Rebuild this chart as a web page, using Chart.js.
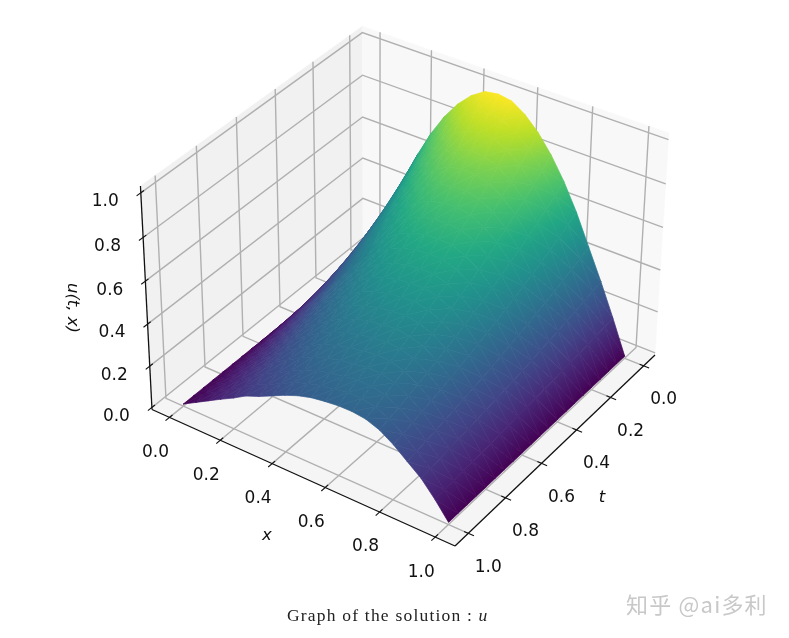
<!DOCTYPE html>
<html>
<head>
<meta charset="utf-8">
<style>
html, body { margin: 0; padding: 0; background: #fff; }
canvas { display: block; }
</style>
<script src="https://cdn.jsdelivr.net/npm/chart.js@4"></script>
</head>
<body>
<canvas id="surfaceChart" width="789" height="638"></canvas>
<script>
// grid of the surface
const xValues = [0, 0.05, 0.1, 0.15, 0.2, 0.25, 0.3, 0.35, 0.4, 0.45, 0.5, 0.55, 0.6, 0.65, 0.7, 0.75, 0.8, 0.85, 0.9, 0.95, 1];
const tValues = [0, 0.05, 0.1, 0.15, 0.2, 0.25, 0.3, 0.35, 0.4, 0.45, 0.5, 0.55, 0.6, 0.65, 0.7, 0.75, 0.8, 0.85, 0.9, 0.95, 1];
// u(t, x), one line per x, going through t
const uByX = [
  [0, 0, 0, 0, 0, 0, 0, 0, 0, 0, 0, 0, 0, 0, 0, 0, 0, 0, 0, 0, 0],
  [.160, .148, .138, .128, .118, .110, .102, .094, .087, .081, .075, .070, .065, .060, .056, .052, .048, .044, .041, .038, .035],
  [.310, .288, .267, .248, .230, .213, .198, .184, .170, .158, .147, .136, .126, .117, .109, .101, .094, .087, .081, .075, .070],
  [.450, .419, .389, .362, .337, .313, .291, .271, .252, .234, .218, .203, .188, .175, .163, .152, .141, .131, .122, .113, .105],
  [.590, .549, .511, .476, .443, .413, .384, .358, .333, .310, .289, .269, .250, .233, .217, .202, .188, .175, .163, .150, .138],
  [.710, .663, .619, .579, .540, .505, .471, .440, .411, .384, .358, .335, .313, .292, .273, .255, .238, .222, .205, .190, .175],
  [.810, .757, .708, .662, .619, .579, .541, .506, .473, .442, .414, .387, .362, .338, .316, .296, .276, .258, .236, .218, .200],
  [.890, .834, .781, .732, .686, .643, .602, .564, .529, .495, .464, .435, .407, .382, .358, .335, .314, .294, .270, .250, .230],
  [.950, .892, .838, .786, .739, .693, .651, .612, .574, .539, .506, .475, .446, .419, .393, .369, .347, .326, .302, .281, .260],
  [.990, .931, .875, .822, .773, .727, .683, .642, .603, .567, .533, .501, .471, .443, .416, .391, .368, .346, .325, .304, .285],
  [1.00, .942, .887, .836, .787, .742, .699, .658, .620, .584, .550, .518, .488, .460, .433, .408, .384, .362, .341, .321, .303],
  [.990, .935, .882, .833, .786, .742, .701, .661, .624, .589, .556, .525, .496, .468, .442, .417, .394, .372, .351, .331, .313],
  [.950, .901, .854, .809, .767, .727, .690, .654, .620, .587, .557, .528, .500, .474, .450, .426, .404, .383, .363, .344, .320],
  [.890, .846, .805, .765, .728, .692, .658, .626, .595, .566, .538, .512, .487, .463, .440, .419, .398, .379, .360, .342, .321],
  [.810, .773, .737, .703, .671, .640, .611, .583, .556, .530, .506, .483, .460, .439, .419, .400, .381, .364, .347, .331, .313],
  [.710, .679, .649, .620, .593, .567, .542, .518, .495, .473, .453, .433, .414, .395, .378, .361, .345, .330, .316, .302, .290],
  [.590, .565, .541, .519, .497, .476, .456, .437, .419, .401, .384, .368, .353, .338, .324, .310, .297, .285, .273, .261, .250],
  [.450, .432, .415, .398, .382, .367, .352, .338, .325, .312, .299, .287, .276, .265, .254, .244, .234, .225, .216, .207, .200],
  [.310, .299, .288, .278, .268, .258, .249, .240, .231, .223, .215, .207, .200, .193, .186, .179, .173, .167, .161, .155, .150],
  [.160, .155, .149, .144, .139, .134, .130, .125, .121, .117, .113, .109, .105, .102, .098, .095, .092, .089, .086, .083, .080],
  [0, 0, 0, 0, 0, 0, 0, 0, 0, 0, 0, 0, 0, 0, 0, 0, 0, 0, 0, 0, 0]
];
const xTicks = [0, 0.2, 0.4, 0.6, 0.8, 1];
const tTicks = [0, 0.2, 0.4, 0.6, 0.8, 1];
const uTicks = [0, 0.2, 0.4, 0.6, 0.8, 1];

const xLim = [-0.07, 1.07];
const tLim = [-0.07, 1.07];
const uLim = [-0.01, 1.03];

const viridis = ['#440154', '#482475', '#414487', '#355f8d', '#2a788e', '#21918c', '#22a884', '#44bf70', '#7ad151', '#bddf26', '#fde725'];

function hexToRgb(h) {
  return [parseInt(h.slice(1, 3), 16), parseInt(h.slice(3, 5), 16), parseInt(h.slice(5, 7), 16)];
}

function colorFor(v) {
  const p = Math.min(Math.max(v, 0), 1) * (viridis.length - 1);
  const i = Math.min(Math.floor(p), viridis.length - 2);
  const a = hexToRgb(viridis[i]), b = hexToRgb(viridis[i + 1]);
  const f = p - i;
  return 'rgb(' + a.map((c, k) => Math.round(c + (b[k] - c) * f)).join(',') + ')';
}

// camera of the 3d box, fitted on the corners of the panes
function project(x, t, u) {
  const a = (x - xLim[0]) / (xLim[1] - xLim[0]);
  const b = (t - tLim[0]) / (tLim[1] - tLim[0]);
  const c = (u - uLim[0]) / (uLim[1] - uLim[0]);
  const w = 1 - 0.05886 * a - 0.07515 * b - 0.045 * c;
  return {
    x: (363 + 253.45 * a - 222.42 * b - 17 * c) / w,
    y: (240 + 94.1 * a + 138.73 * b - 215 * c) / w
  };
}

const datasets = [];

function addPath(points, color, width) {
  datasets.push({ data: points, borderColor: color, borderWidth: width, pointRadius: 0, fill: false });
}

function addPolygon(points, color, edge, width) {
  datasets.push({
    data: points.concat([points[0]]),
    backgroundColor: color,
    borderColor: edge,
    borderWidth: width,
    pointRadius: 0,
    fill: 'shape'
  });
}

// linear colour over a triangle, so that the corners of neighbours agree
function trianglePaint(pts, heights) {
  return function(ctx) {
    const sx = ctx.chart.scales.x, sy = ctx.chart.scales.y;
    const low = Math.min(...heights), high = Math.max(...heights);
    const flat = colorFor((low + high) / 2);
    if (high - low < 0.0005 || !sx || !sy) return flat;
    const px = pts.map(p => sx.getPixelForValue(p.x));
    const py = pts.map(p => sy.getPixelForValue(p.y));
    if (!px.concat(py).every(Number.isFinite)) return flat;
    const dx1 = px[1] - px[0], dy1 = py[1] - py[0], dx2 = px[2] - px[0], dy2 = py[2] - py[0];
    const du1 = heights[1] - heights[0], du2 = heights[2] - heights[0];
    const det = dx1 * dy2 - dx2 * dy1;
    if (Math.abs(det) < 0.01) return flat;
    const gx = (du1 * dy2 - du2 * dy1) / det, gy = (dx1 * du2 - dx2 * du1) / det;
    const n = gx * gx + gy * gy;
    const s0 = (low - heights[0]) / n, s1 = (high - heights[0]) / n;
    const g = ctx.chart.ctx.createLinearGradient(px[0] + gx * s0, py[0] + gy * s0, px[0] + gx * s1, py[0] + gy * s1);
    g.addColorStop(0, colorFor(low));
    g.addColorStop(0.5, colorFor((low + high) / 2));
    g.addColorStop(1, colorFor(high));
    return g;
  };
}

// first dataset ends up on top, so the nearest facets go first
for (let i = xValues.length - 2; i >= 0; i--) {
  for (let j = tValues.length - 2; j >= 0; j--) {
    const corners = [[i + 1, j + 1], [i, j + 1], [i + 1, j], [i, j]];
    const heights = corners.map(c => uByX[c[0]][c[1]]);
    const pts = corners.map(c => project(xValues[c[0]], tValues[c[1]], uByX[c[0]][c[1]]));
    [[0, 1, 2], [3, 1, 2]].forEach(tri => {
      const paint = trianglePaint(tri.map(k => pts[k]), tri.map(k => heights[k]));
      addPolygon(tri.map(k => pts[k]), paint, paint, 0.7);
    });
  }
}

// axis lines and tick marks
const xEnd = xLim[1], xStart = xLim[0], tEnd = tLim[1], tStart = tLim[0], uEnd = uLim[1], uStart = uLim[0];
addPath([project(xStart, tEnd, uStart), project(xEnd, tEnd, uStart)], '#111', 1.3);
addPath([project(xEnd, tStart, uStart), project(xEnd, tEnd, uStart)], '#111', 1.3);
addPath([project(xStart, tEnd, uStart), project(xStart, tEnd, uEnd)], '#111', 1.3);
xTicks.forEach(v => addPath([project(v, tEnd - 0.015, uStart), project(v, tEnd + 0.02, uStart)], '#111', 1.1));
tTicks.forEach(v => addPath([project(xEnd - 0.015, v, uStart), project(xEnd + 0.02, v, uStart)], '#111', 1.1));
uTicks.forEach(v => addPath([project(xStart, tEnd - 0.015, v), project(xStart, tEnd + 0.02, v)], '#111', 1.1));

// grid on the panes
const gridColor = '#b0b0b0';
xTicks.forEach(v => addPath([project(v, tEnd, uStart), project(v, tStart, uStart), project(v, tStart, uEnd)], gridColor, 1.4));
tTicks.forEach(v => addPath([project(xEnd, v, uStart), project(xStart, v, uStart), project(xStart, v, uEnd)], gridColor, 1.4));
uTicks.forEach(v => addPath([project(xStart, tEnd, v), project(xStart, tStart, v), project(xEnd, tStart, v)], gridColor, 1.4));

// panes
addPolygon([project(xStart, tStart, uStart), project(xEnd, tStart, uStart), project(xEnd, tEnd, uStart), project(xStart, tEnd, uStart)], '#f5f5f5', '#f5f5f5', 0.5);
addPolygon([project(xStart, tStart, uStart), project(xEnd, tStart, uStart), project(xEnd, tStart, uEnd), project(xStart, tStart, uEnd)], '#f8f8f8', '#f8f8f8', 0.5);
addPolygon([project(xStart, tStart, uStart), project(xStart, tEnd, uStart), project(xStart, tEnd, uEnd), project(xStart, tStart, uEnd)], '#f1f1f1', '#f1f1f1', 0.5);

const textPlugin = {
  id: 'axisText',
  afterDraw(chart) {
    const ctx = chart.ctx;
    const sx = chart.scales.x, sy = chart.scales.y;
    const at = p => [sx.getPixelForValue(p.x), sy.getPixelForValue(p.y)];
    ctx.save();
    ctx.textAlign = 'center';
    ctx.textBaseline = 'middle';
    ctx.fillStyle = '#111';
    ctx.font = '17px "DejaVu Sans"';
    xTicks.forEach(v => {
      const p = at(project(v, tEnd, uStart));
      ctx.fillText(v.toFixed(1), p[0] - 14, p[1] + 35);
    });
    tTicks.forEach(v => {
      const p = at(project(xEnd, v, uStart));
      ctx.fillText(v.toFixed(1), p[0] + 20, p[1] + 34);
    });
    uTicks.forEach(v => {
      const p = at(project(xStart, tEnd, v));
      ctx.fillText(v.toFixed(1), p[0] - 35.5, p[1] + 9);
    });
    ctx.font = 'italic 16.5px "DejaVu Sans"';
    ctx.fillText('x', 267, 536);
    ctx.fillText('t', 602, 498);
    ctx.save();
    ctx.translate(72, 308);
    ctx.rotate(Math.PI / 2);
    ctx.fillText('u(t, x)', 0, 0);
    ctx.restore();
    ctx.textAlign = 'left';
    ctx.fillStyle = '#222';
    ctx.letterSpacing = '1.2px';
    ctx.font = '17.5px "Liberation Serif"';
    ctx.fillText('Graph of the solution : ', 287, 616);
    const w = ctx.measureText('Graph of the solution : ').width;
    ctx.font = 'italic 17.5px "Liberation Serif"';
    ctx.fillText('u', 287 + w, 616);
    ctx.fillStyle = '#c8c8c8';
    ctx.letterSpacing = '1.2px';
    ctx.font = '22px "Noto Sans CJK SC"';
    ctx.fillText('知乎 @ai多利', 626, 605);
    ctx.restore();
  }
};

new Chart(document.getElementById('surfaceChart'), {
  type: 'line',
  data: { datasets: datasets },
  options: {
    responsive: false,
    animation: false,
    events: [],
    layout: { padding: 0 },
    plugins: { legend: { display: false }, tooltip: { enabled: false }, title: { display: false } },
    scales: {
      x: { type: 'linear', min: 0, max: 789, display: false },
      y: { type: 'linear', min: 0, max: 638, reverse: true, display: false }
    }
  },
  plugins: [textPlugin]
});
</script>
</body>
</html>
